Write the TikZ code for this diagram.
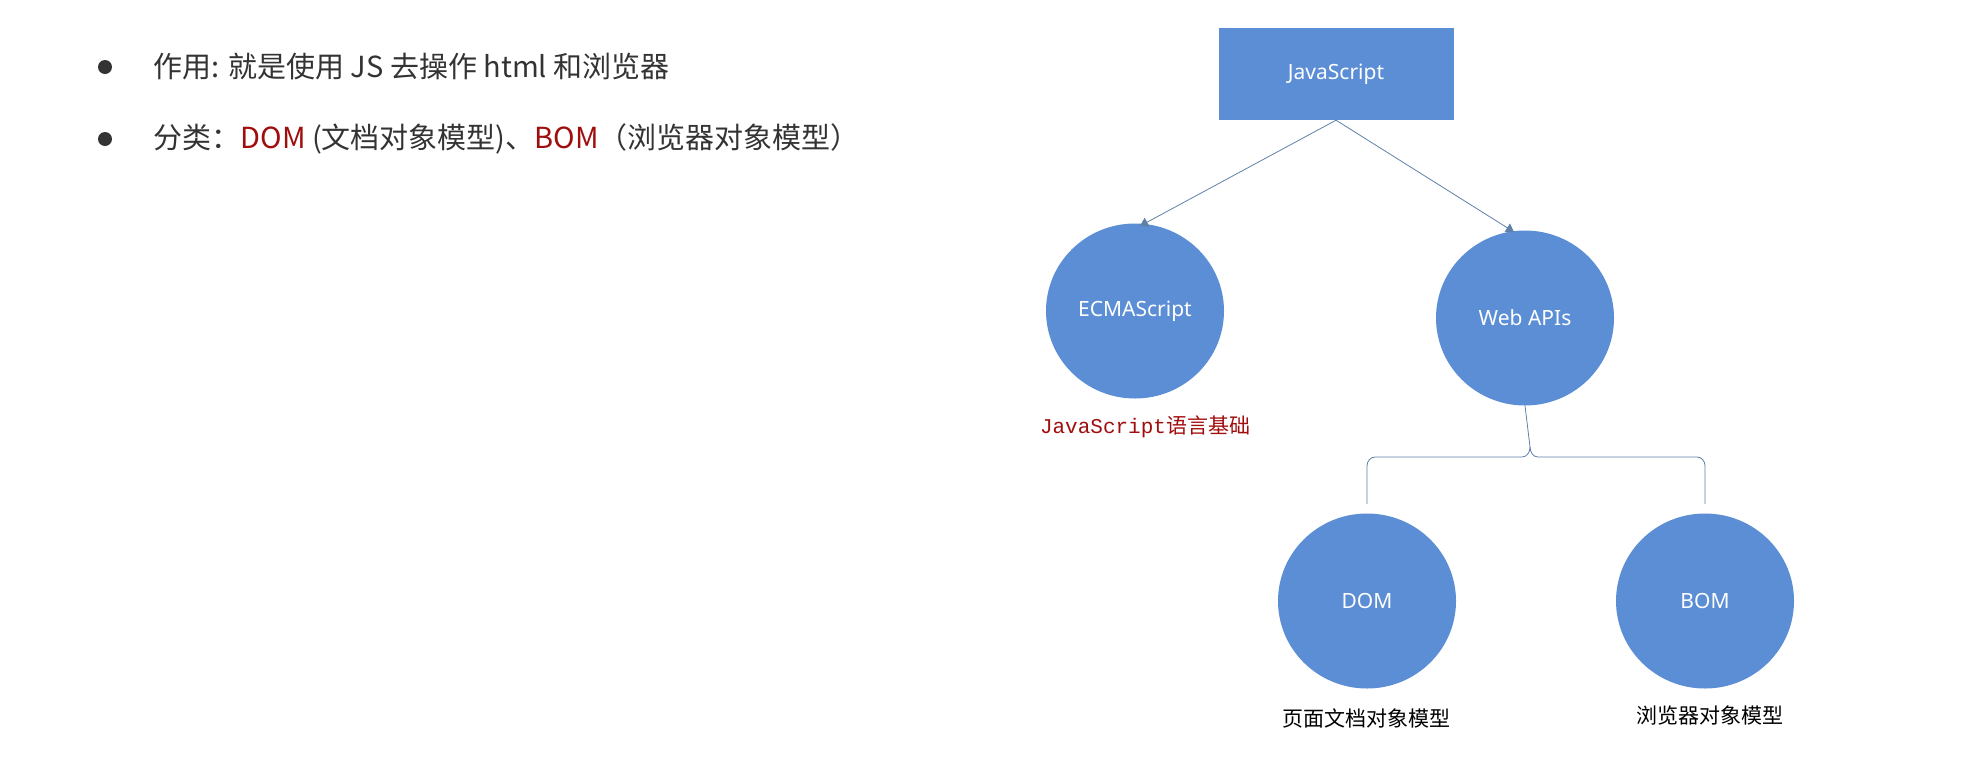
\documentclass[tikz,border=0pt]{standalone}
\usepackage{fontspec}
\setmainfont{Noto Sans CJK SC}
\newfontfamily\mono{Liberation Mono}
\newfontfamily\lab{Noto Sans}
\usetikzlibrary{arrows.meta,shapes.geometric}
\definecolor{nodeblue}{HTML}{5B8ED5}
\definecolor{linec}{HTML}{5F80A8}
\definecolor{dred}{HTML}{A00D0D}
\definecolor{txt}{HTML}{333333}
\begin{document}
\begin{tikzpicture}[x=1pt,y=-1pt,
  bubble/.style={ellipse,fill=nodeblue,minimum width=178,minimum height=175,inner sep=0,text=white,font=\lab\fontsize{21}{25}\selectfont},
  conn/.style={draw=linec,line width=0.8,-{Triangle[length=8,width=10]}},
  captxt/.style={font=\fontsize{21}{25}\selectfont,text=black}]
\useasboundingbox (0,0) rectangle (1985,774);
\node[circle,fill=txt,inner sep=0,minimum size=14] (b1) at (105,67) {};
\node[circle,fill=txt,inner sep=0,minimum size=14] (b2) at (105,139) {};
\node[anchor=west,text=txt,font=\fontsize{29}{34}\selectfont] (t1) at (150,67) {作用: 就是使用 JS 去操作 html 和浏览器};
\node[anchor=west,text=txt,font=\fontsize{29}{34}\selectfont] (t2) at (150,139) {分类：\textcolor{dred}{DOM} (文档对象模型)、\textcolor{dred}{BOM}（浏览器对象模型）};
\node[rectangle,fill=nodeblue,minimum width=235,minimum height=92,inner sep=0,text=white,font=\lab\fontsize{21}{25}\selectfont] (js) at (1336,74) {JavaScript};
\node[bubble] (ecma) at (1135,311) {ECMAScript};
\node[bubble] (web) at (1525,318) {Web APIs};
\node[bubble] (dom) at (1367,601) {DOM};
\node[bubble] (bom) at (1705,601) {BOM};
\node[font=\fontsize{21}{25}\selectfont,text=dred] (l1) at (1145,427) {{\mono JavaScript}语言基础};
\node[captxt] (l2) at (1366,718) {页面文档对象模型};
\node[captxt] (l3) at (1710,715) {浏览器对象模型};
\coordinate (jsb) at (js.south);
\draw[conn] (jsb) -- (1140,226);
\draw[conn] (jsb) -- (1514,232);
\draw[draw=linec,line width=0.8] (web.south) -- (1530,447) to[out=-90,in=0] (1522,457) -- (1375,457) to[out=180,in=90] (1367,466) -- (1367,504);
\draw[draw=linec,line width=0.8] (1530,447) to[out=-90,in=180] (1538,457) -- (1697,457) to[out=0,in=90] (1705,466) -- (1705,504);
\end{tikzpicture}
\end{document}
